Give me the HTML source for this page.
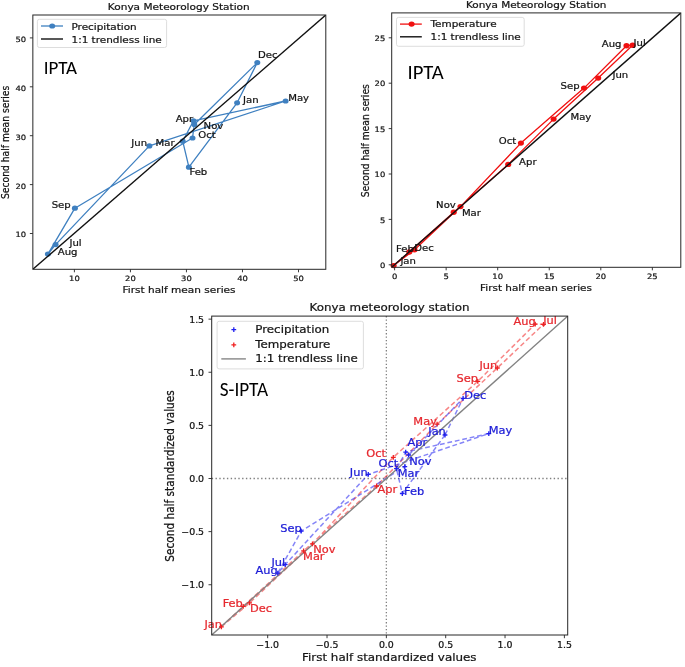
<!DOCTYPE html>
<html><head><meta charset="utf-8"><title>IPTA / S-IPTA Konya</title>
<style>html,body{margin:0;padding:0;background:#fff;} svg{display:block;filter:blur(0.4px);} text{font-family:'DejaVu Sans', 'Liberation Sans', sans-serif;}</style>
</head><body>
<svg width="685" height="667" viewBox="0 0 685 667">
<rect x="0" y="0" width="685" height="667" fill="#ffffff"/>
<clipPath id="c1"><rect x="32.85" y="15.0" width="292.95" height="254.3"/></clipPath>
<polyline points="237.10,102.80 188.90,167.20 182.70,141.20 193.50,120.80 285.60,101.00 149.40,145.90 55.60,244.60 47.90,254.10 74.90,208.20 192.50,138.00 194.30,124.50 257.30,62.60 237.10,102.80" fill="none" stroke="#3f80c0" stroke-width="1.3" stroke-linejoin="round" />
<ellipse cx="237.10" cy="102.80" rx="3.00" ry="2.62" fill="#3f80c0"/>
<ellipse cx="188.90" cy="167.20" rx="3.00" ry="2.62" fill="#3f80c0"/>
<ellipse cx="182.70" cy="141.20" rx="3.00" ry="2.62" fill="#3f80c0"/>
<ellipse cx="193.50" cy="120.80" rx="3.00" ry="2.62" fill="#3f80c0"/>
<ellipse cx="285.60" cy="101.00" rx="3.00" ry="2.62" fill="#3f80c0"/>
<ellipse cx="149.40" cy="145.90" rx="3.00" ry="2.62" fill="#3f80c0"/>
<ellipse cx="55.60" cy="244.60" rx="3.00" ry="2.62" fill="#3f80c0"/>
<ellipse cx="47.90" cy="254.10" rx="3.00" ry="2.62" fill="#3f80c0"/>
<ellipse cx="74.90" cy="208.20" rx="3.00" ry="2.62" fill="#3f80c0"/>
<ellipse cx="192.50" cy="138.00" rx="3.00" ry="2.62" fill="#3f80c0"/>
<ellipse cx="194.30" cy="124.50" rx="3.00" ry="2.62" fill="#3f80c0"/>
<ellipse cx="257.30" cy="62.60" rx="3.00" ry="2.62" fill="#3f80c0"/>
<line x1="32.85" y1="269.30" x2="325.80" y2="15.00" stroke="#111111" stroke-width="1.4" clip-path="url(#c1)"/>
<text transform="translate(257.99,57.80) scale(1,0.873)" font-size="10.10" text-anchor="start" fill="#141414" stroke="#141414" stroke-width="0.25" >Dec</text>
<text transform="translate(243.10,103.10) scale(1,0.873)" font-size="10.10" text-anchor="start" fill="#141414" stroke="#141414" stroke-width="0.25" >Jan</text>
<text transform="translate(288.19,101.30) scale(1,0.873)" font-size="10.10" text-anchor="start" fill="#141414" stroke="#141414" stroke-width="0.25" >May</text>
<text transform="translate(175.70,121.90) scale(1,0.873)" font-size="10.10" text-anchor="start" fill="#141414" stroke="#141414" stroke-width="0.25" >Apr</text>
<text transform="translate(203.59,128.90) scale(1,0.873)" font-size="10.10" text-anchor="start" fill="#141414" stroke="#141414" stroke-width="0.25" >Nov</text>
<text transform="translate(198.34,138.10) scale(1,0.873)" font-size="10.10" text-anchor="start" fill="#141414" stroke="#141414" stroke-width="0.25" >Oct</text>
<text transform="translate(155.49,146.40) scale(1,0.873)" font-size="10.10" text-anchor="start" fill="#141414" stroke="#141414" stroke-width="0.25" >Mar</text>
<text transform="translate(189.39,175.10) scale(1,0.873)" font-size="10.10" text-anchor="start" fill="#141414" stroke="#141414" stroke-width="0.25" >Feb</text>
<text transform="translate(131.31,146.40) scale(1,0.873)" font-size="10.10" text-anchor="start" fill="#141414" stroke="#141414" stroke-width="0.25" >Jun</text>
<text transform="translate(51.64,208.40) scale(1,0.873)" font-size="10.10" text-anchor="start" fill="#141414" stroke="#141414" stroke-width="0.25" >Sep</text>
<text transform="translate(69.41,246.10) scale(1,0.873)" font-size="10.10" text-anchor="start" fill="#141414" stroke="#141414" stroke-width="0.25" >Jul</text>
<text transform="translate(57.80,255.20) scale(1,0.873)" font-size="10.10" text-anchor="start" fill="#141414" stroke="#141414" stroke-width="0.25" >Aug</text>
<rect x="32.85" y="15.00" width="292.95" height="254.30" fill="none" stroke="#262626" stroke-width="1.0"/>
<line x1="74.40" y1="269.30" x2="74.40" y2="272.30" stroke="#262626" stroke-width="0.9" />
<text transform="translate(74.40,280.60) scale(1,0.873)" font-size="8.40" text-anchor="middle" fill="#141414" stroke="#141414" stroke-width="0.25" >10</text>
<line x1="29.85" y1="233.50" x2="32.85" y2="233.50" stroke="#262626" stroke-width="0.9" />
<text transform="translate(26.15,237.40) scale(1,0.873)" font-size="8.40" text-anchor="end" fill="#141414" stroke="#141414" stroke-width="0.25" >10</text>
<line x1="130.43" y1="269.30" x2="130.43" y2="272.30" stroke="#262626" stroke-width="0.9" />
<text transform="translate(130.43,280.60) scale(1,0.873)" font-size="8.40" text-anchor="middle" fill="#141414" stroke="#141414" stroke-width="0.25" >20</text>
<line x1="29.85" y1="184.60" x2="32.85" y2="184.60" stroke="#262626" stroke-width="0.9" />
<text transform="translate(26.15,188.50) scale(1,0.873)" font-size="8.40" text-anchor="end" fill="#141414" stroke="#141414" stroke-width="0.25" >20</text>
<line x1="186.45" y1="269.30" x2="186.45" y2="272.30" stroke="#262626" stroke-width="0.9" />
<text transform="translate(186.45,280.60) scale(1,0.873)" font-size="8.40" text-anchor="middle" fill="#141414" stroke="#141414" stroke-width="0.25" >30</text>
<line x1="29.85" y1="135.70" x2="32.85" y2="135.70" stroke="#262626" stroke-width="0.9" />
<text transform="translate(26.15,139.60) scale(1,0.873)" font-size="8.40" text-anchor="end" fill="#141414" stroke="#141414" stroke-width="0.25" >30</text>
<line x1="242.47" y1="269.30" x2="242.47" y2="272.30" stroke="#262626" stroke-width="0.9" />
<text transform="translate(242.47,280.60) scale(1,0.873)" font-size="8.40" text-anchor="middle" fill="#141414" stroke="#141414" stroke-width="0.25" >40</text>
<line x1="29.85" y1="86.80" x2="32.85" y2="86.80" stroke="#262626" stroke-width="0.9" />
<text transform="translate(26.15,90.70) scale(1,0.873)" font-size="8.40" text-anchor="end" fill="#141414" stroke="#141414" stroke-width="0.25" >40</text>
<line x1="298.50" y1="269.30" x2="298.50" y2="272.30" stroke="#262626" stroke-width="0.9" />
<text transform="translate(298.50,280.60) scale(1,0.873)" font-size="8.40" text-anchor="middle" fill="#141414" stroke="#141414" stroke-width="0.25" >50</text>
<line x1="29.85" y1="37.90" x2="32.85" y2="37.90" stroke="#262626" stroke-width="0.9" />
<text transform="translate(26.15,41.80) scale(1,0.873)" font-size="8.40" text-anchor="end" fill="#141414" stroke="#141414" stroke-width="0.25" >50</text>
<rect x="37.40" y="19.30" width="129.20" height="28.20" rx="2" ry="2" fill="#ffffff" fill-opacity="0.8" stroke="#d9d9d9" stroke-width="0.9"/>
<line x1="41.00" y1="26.00" x2="63.00" y2="26.00" stroke="#3f80c0" stroke-width="1.3" />
<ellipse cx="52.20" cy="26.00" rx="3.00" ry="2.62" fill="#3f80c0"/>
<line x1="41.00" y1="39.00" x2="63.00" y2="39.00" stroke="#111111" stroke-width="1.4" />
<text transform="translate(71.50,29.70) scale(1,0.873)" font-size="10.45" text-anchor="start" fill="#141414" stroke="#141414" stroke-width="0.25" >Precipitation</text>
<text transform="translate(71.50,42.50) scale(1,0.873)" font-size="10.45" text-anchor="start" fill="#141414" stroke="#141414" stroke-width="0.25" >1:1 trendless line</text>
<text transform="translate(43.80,74.20) scale(1,1.000)" font-size="18.30" text-anchor="start" fill="#000000" style="font-family:Carlito, 'Liberation Sans', sans-serif" textLength="33.3" lengthAdjust="spacingAndGlyphs">IPTA</text>
<text transform="translate(178.80,10.30) scale(1,0.873)" font-size="10.55" text-anchor="middle" fill="#141414" stroke="#141414" stroke-width="0.25" >Konya Meteorology Station</text>
<text transform="translate(179.00,293.00) scale(1,0.873)" font-size="10.55" text-anchor="middle" fill="#141414" stroke="#141414" stroke-width="0.25" >First half mean series</text>
<text transform="translate(8.70,142.40) scale(1,0.873) rotate(-90)" font-size="10.55" text-anchor="middle" fill="#141414" stroke="#141414" stroke-width="0.25" >Second half mean series</text>
<clipPath id="c2"><rect x="391.7" y="12.9" width="289.09999999999997" height="254.4"/></clipPath>
<polyline points="393.60,265.60 409.30,252.00 453.70,212.30 508.20,164.40 553.60,119.10 598.20,78.10 632.60,45.20 626.50,45.80 584.00,88.10 520.90,143.10 460.50,206.60 414.50,249.80 393.60,265.60" fill="none" stroke="#f01010" stroke-width="1.3" stroke-linejoin="round" clip-path="url(#c2)"/>
<ellipse cx="393.60" cy="265.60" rx="3.05" ry="2.69" fill="#f01010"/>
<ellipse cx="409.30" cy="252.00" rx="3.05" ry="2.69" fill="#f01010"/>
<ellipse cx="453.70" cy="212.30" rx="3.05" ry="2.69" fill="#f01010"/>
<ellipse cx="508.20" cy="164.40" rx="3.05" ry="2.69" fill="#f01010"/>
<ellipse cx="553.60" cy="119.10" rx="3.05" ry="2.69" fill="#f01010"/>
<ellipse cx="598.20" cy="78.10" rx="3.05" ry="2.69" fill="#f01010"/>
<ellipse cx="632.60" cy="45.20" rx="3.05" ry="2.69" fill="#f01010"/>
<ellipse cx="626.50" cy="45.80" rx="3.05" ry="2.69" fill="#f01010"/>
<ellipse cx="584.00" cy="88.10" rx="3.05" ry="2.69" fill="#f01010"/>
<ellipse cx="520.90" cy="143.10" rx="3.05" ry="2.69" fill="#f01010"/>
<ellipse cx="460.50" cy="206.60" rx="3.05" ry="2.69" fill="#f01010"/>
<ellipse cx="414.50" cy="249.80" rx="3.05" ry="2.69" fill="#f01010"/>
<line x1="391.70" y1="267.30" x2="680.80" y2="12.90" stroke="#111111" stroke-width="1.4" clip-path="url(#c2)"/>
<text transform="translate(601.80,46.70) scale(1,0.881)" font-size="10.10" text-anchor="start" fill="#141414" stroke="#141414" stroke-width="0.25" >Aug</text>
<text transform="translate(633.61,45.80) scale(1,0.881)" font-size="10.10" text-anchor="start" fill="#141414" stroke="#141414" stroke-width="0.25" >Jul</text>
<text transform="translate(612.50,77.90) scale(1,0.881)" font-size="10.10" text-anchor="start" fill="#141414" stroke="#141414" stroke-width="0.25" >Jun</text>
<text transform="translate(560.54,88.50) scale(1,0.881)" font-size="10.10" text-anchor="start" fill="#141414" stroke="#141414" stroke-width="0.25" >Sep</text>
<text transform="translate(570.49,120.00) scale(1,0.881)" font-size="10.10" text-anchor="start" fill="#141414" stroke="#141414" stroke-width="0.25" >May</text>
<text transform="translate(498.84,143.90) scale(1,0.881)" font-size="10.10" text-anchor="start" fill="#141414" stroke="#141414" stroke-width="0.25" >Oct</text>
<text transform="translate(519.10,164.60) scale(1,0.881)" font-size="10.10" text-anchor="start" fill="#141414" stroke="#141414" stroke-width="0.25" >Apr</text>
<text transform="translate(436.09,207.70) scale(1,0.881)" font-size="10.10" text-anchor="start" fill="#141414" stroke="#141414" stroke-width="0.25" >Nov</text>
<text transform="translate(461.89,216.40) scale(1,0.881)" font-size="10.10" text-anchor="start" fill="#141414" stroke="#141414" stroke-width="0.25" >Mar</text>
<text transform="translate(395.99,252.10) scale(1,0.881)" font-size="10.10" text-anchor="start" fill="#141414" stroke="#141414" stroke-width="0.25" >Feb</text>
<text transform="translate(414.19,251.20) scale(1,0.881)" font-size="10.10" text-anchor="start" fill="#141414" stroke="#141414" stroke-width="0.25" >Dec</text>
<text transform="translate(400.40,264.30) scale(1,0.881)" font-size="10.10" text-anchor="start" fill="#141414" stroke="#141414" stroke-width="0.25" >Jan</text>
<rect x="391.70" y="12.90" width="289.10" height="254.40" fill="none" stroke="#262626" stroke-width="1.0"/>
<line x1="394.60" y1="267.30" x2="394.60" y2="270.30" stroke="#262626" stroke-width="0.9" />
<text transform="translate(394.60,279.00) scale(1,0.881)" font-size="8.40" text-anchor="middle" fill="#141414" stroke="#141414" stroke-width="0.25" >0</text>
<line x1="388.70" y1="264.80" x2="391.70" y2="264.80" stroke="#262626" stroke-width="0.9" />
<text transform="translate(385.30,267.90) scale(1,0.881)" font-size="8.40" text-anchor="end" fill="#141414" stroke="#141414" stroke-width="0.25" >0</text>
<line x1="446.15" y1="267.30" x2="446.15" y2="270.30" stroke="#262626" stroke-width="0.9" />
<text transform="translate(446.15,279.00) scale(1,0.881)" font-size="8.40" text-anchor="middle" fill="#141414" stroke="#141414" stroke-width="0.25" >5</text>
<line x1="388.70" y1="219.40" x2="391.70" y2="219.40" stroke="#262626" stroke-width="0.9" />
<text transform="translate(385.30,222.50) scale(1,0.881)" font-size="8.40" text-anchor="end" fill="#141414" stroke="#141414" stroke-width="0.25" >5</text>
<line x1="497.70" y1="267.30" x2="497.70" y2="270.30" stroke="#262626" stroke-width="0.9" />
<text transform="translate(497.70,279.00) scale(1,0.881)" font-size="8.40" text-anchor="middle" fill="#141414" stroke="#141414" stroke-width="0.25" >10</text>
<line x1="388.70" y1="174.00" x2="391.70" y2="174.00" stroke="#262626" stroke-width="0.9" />
<text transform="translate(385.30,177.10) scale(1,0.881)" font-size="8.40" text-anchor="end" fill="#141414" stroke="#141414" stroke-width="0.25" >10</text>
<line x1="549.25" y1="267.30" x2="549.25" y2="270.30" stroke="#262626" stroke-width="0.9" />
<text transform="translate(549.25,279.00) scale(1,0.881)" font-size="8.40" text-anchor="middle" fill="#141414" stroke="#141414" stroke-width="0.25" >15</text>
<line x1="388.70" y1="128.60" x2="391.70" y2="128.60" stroke="#262626" stroke-width="0.9" />
<text transform="translate(385.30,131.70) scale(1,0.881)" font-size="8.40" text-anchor="end" fill="#141414" stroke="#141414" stroke-width="0.25" >15</text>
<line x1="600.80" y1="267.30" x2="600.80" y2="270.30" stroke="#262626" stroke-width="0.9" />
<text transform="translate(600.80,279.00) scale(1,0.881)" font-size="8.40" text-anchor="middle" fill="#141414" stroke="#141414" stroke-width="0.25" >20</text>
<line x1="388.70" y1="83.20" x2="391.70" y2="83.20" stroke="#262626" stroke-width="0.9" />
<text transform="translate(385.30,86.30) scale(1,0.881)" font-size="8.40" text-anchor="end" fill="#141414" stroke="#141414" stroke-width="0.25" >20</text>
<line x1="652.35" y1="267.30" x2="652.35" y2="270.30" stroke="#262626" stroke-width="0.9" />
<text transform="translate(652.35,279.00) scale(1,0.881)" font-size="8.40" text-anchor="middle" fill="#141414" stroke="#141414" stroke-width="0.25" >25</text>
<line x1="388.70" y1="37.80" x2="391.70" y2="37.80" stroke="#262626" stroke-width="0.9" />
<text transform="translate(385.30,40.90) scale(1,0.881)" font-size="8.40" text-anchor="end" fill="#141414" stroke="#141414" stroke-width="0.25" >25</text>
<rect x="396.50" y="17.40" width="127.70" height="28.90" rx="2" ry="2" fill="#ffffff" fill-opacity="0.8" stroke="#d9d9d9" stroke-width="0.9"/>
<line x1="400.00" y1="24.10" x2="421.80" y2="24.10" stroke="#f01010" stroke-width="1.3" />
<ellipse cx="411.60" cy="24.10" rx="3.05" ry="2.69" fill="#f01010"/>
<line x1="400.00" y1="36.80" x2="421.80" y2="36.80" stroke="#111111" stroke-width="1.4" />
<text transform="translate(430.50,27.30) scale(1,0.881)" font-size="10.45" text-anchor="start" fill="#141414" stroke="#141414" stroke-width="0.25" >Temperature</text>
<text transform="translate(430.50,40.00) scale(1,0.881)" font-size="10.45" text-anchor="start" fill="#141414" stroke="#141414" stroke-width="0.25" >1:1 trendless line</text>
<text transform="translate(407.50,79.20) scale(1,1.000)" font-size="19.80" text-anchor="start" fill="#000000" style="font-family:Carlito, 'Liberation Sans', sans-serif" textLength="36.2" lengthAdjust="spacingAndGlyphs">IPTA</text>
<text transform="translate(536.20,8.20) scale(1,0.881)" font-size="10.45" text-anchor="middle" fill="#141414" stroke="#141414" stroke-width="0.25" >Konya Meteorology Station</text>
<text transform="translate(536.00,290.70) scale(1,0.881)" font-size="10.45" text-anchor="middle" fill="#141414" stroke="#141414" stroke-width="0.25" >First half mean series</text>
<text transform="translate(368.50,140.70) scale(1,0.881) rotate(-90)" font-size="10.45" text-anchor="middle" fill="#141414" stroke="#141414" stroke-width="0.25" >Second half mean series</text>
<clipPath id="c3"><rect x="211.7" y="316.1" width="356.00000000000006" height="318.9"/></clipPath>
<line x1="386.36" y1="316.10" x2="386.36" y2="635.00" stroke="#808080" stroke-width="1.3" stroke-dasharray="1.3,2.1" />
<line x1="211.70" y1="478.50" x2="567.70" y2="478.50" stroke="#808080" stroke-width="1.3" stroke-dasharray="1.4,2.4" />
<polyline points="221.40,626.80 243.20,606.40 303.60,550.90 376.60,486.00 437.10,424.20 497.30,368.00 543.50,324.30 535.20,324.10 477.80,381.30 393.30,457.30 312.50,543.90 249.60,602.90 221.40,626.80" fill="none" stroke="#f02020" stroke-width="1.5" stroke-dasharray="4.8,2.8" stroke-linejoin="round" stroke-opacity="0.55"/>
<polyline points="445.00,435.00 402.30,493.50 396.50,468.70 405.70,452.10 488.80,433.60 368.30,474.40 285.20,564.60 277.80,573.10 301.20,531.20 404.80,466.70 408.60,455.00 463.10,398.30 445.00,435.00" fill="none" stroke="#2020f0" stroke-width="1.5" stroke-dasharray="4.8,2.8" stroke-linejoin="round" stroke-opacity="0.55"/>
<line x1="211.70" y1="635.00" x2="567.70" y2="316.10" stroke="#828282" stroke-width="1.35" clip-path="url(#c3)"/>
<path d="M219.00,626.80H223.80M221.40,624.40V629.20" stroke="#f02020" stroke-width="1.3" stroke-opacity="1.0" fill="none"/>
<path d="M240.80,606.40H245.60M243.20,604.00V608.80" stroke="#f02020" stroke-width="1.3" stroke-opacity="1.0" fill="none"/>
<path d="M301.20,550.90H306.00M303.60,548.50V553.30" stroke="#f02020" stroke-width="1.3" stroke-opacity="1.0" fill="none"/>
<path d="M374.20,486.00H379.00M376.60,483.60V488.40" stroke="#f02020" stroke-width="1.3" stroke-opacity="1.0" fill="none"/>
<path d="M434.70,424.20H439.50M437.10,421.80V426.60" stroke="#f02020" stroke-width="1.3" stroke-opacity="1.0" fill="none"/>
<path d="M494.90,368.00H499.70M497.30,365.60V370.40" stroke="#f02020" stroke-width="1.3" stroke-opacity="1.0" fill="none"/>
<path d="M541.10,324.30H545.90M543.50,321.90V326.70" stroke="#f02020" stroke-width="1.3" stroke-opacity="1.0" fill="none"/>
<path d="M532.80,324.10H537.60M535.20,321.70V326.50" stroke="#f02020" stroke-width="1.3" stroke-opacity="1.0" fill="none"/>
<path d="M475.40,381.30H480.20M477.80,378.90V383.70" stroke="#f02020" stroke-width="1.3" stroke-opacity="1.0" fill="none"/>
<path d="M390.90,457.30H395.70M393.30,454.90V459.70" stroke="#f02020" stroke-width="1.3" stroke-opacity="1.0" fill="none"/>
<path d="M310.10,543.90H314.90M312.50,541.50V546.30" stroke="#f02020" stroke-width="1.3" stroke-opacity="1.0" fill="none"/>
<path d="M247.20,602.90H252.00M249.60,600.50V605.30" stroke="#f02020" stroke-width="1.3" stroke-opacity="1.0" fill="none"/>
<path d="M442.60,435.00H447.40M445.00,432.60V437.40" stroke="#2020f0" stroke-width="1.3" stroke-opacity="1.0" fill="none"/>
<path d="M399.90,493.50H404.70M402.30,491.10V495.90" stroke="#2020f0" stroke-width="1.3" stroke-opacity="1.0" fill="none"/>
<path d="M394.10,468.70H398.90M396.50,466.30V471.10" stroke="#2020f0" stroke-width="1.3" stroke-opacity="1.0" fill="none"/>
<path d="M403.30,452.10H408.10M405.70,449.70V454.50" stroke="#2020f0" stroke-width="1.3" stroke-opacity="1.0" fill="none"/>
<path d="M486.40,433.60H491.20M488.80,431.20V436.00" stroke="#2020f0" stroke-width="1.3" stroke-opacity="1.0" fill="none"/>
<path d="M365.90,474.40H370.70M368.30,472.00V476.80" stroke="#2020f0" stroke-width="1.3" stroke-opacity="1.0" fill="none"/>
<path d="M282.80,564.60H287.60M285.20,562.20V567.00" stroke="#2020f0" stroke-width="1.3" stroke-opacity="1.0" fill="none"/>
<path d="M275.40,573.10H280.20M277.80,570.70V575.50" stroke="#2020f0" stroke-width="1.3" stroke-opacity="1.0" fill="none"/>
<path d="M298.80,531.20H303.60M301.20,528.80V533.60" stroke="#2020f0" stroke-width="1.3" stroke-opacity="1.0" fill="none"/>
<path d="M402.40,466.70H407.20M404.80,464.30V469.10" stroke="#2020f0" stroke-width="1.3" stroke-opacity="1.0" fill="none"/>
<path d="M406.20,455.00H411.00M408.60,452.60V457.40" stroke="#2020f0" stroke-width="1.3" stroke-opacity="1.0" fill="none"/>
<path d="M460.70,398.30H465.50M463.10,395.90V400.70" stroke="#2020f0" stroke-width="1.3" stroke-opacity="1.0" fill="none"/>
<text transform="translate(513.59,324.80) scale(1,0.895)" font-size="11.40" text-anchor="start" fill="#e6282e" stroke="#e6282e" stroke-width="0.25" >Aug</text>
<text transform="translate(543.17,324.30) scale(1,0.895)" font-size="11.40" text-anchor="start" fill="#e6282e" stroke="#e6282e" stroke-width="0.25" >Jul</text>
<text transform="translate(479.47,368.60) scale(1,0.895)" font-size="11.40" text-anchor="start" fill="#e6282e" stroke="#e6282e" stroke-width="0.25" >Jun</text>
<text transform="translate(456.46,381.80) scale(1,0.895)" font-size="11.40" text-anchor="start" fill="#e6282e" stroke="#e6282e" stroke-width="0.25" >Sep</text>
<text transform="translate(413.36,425.10) scale(1,0.895)" font-size="11.40" text-anchor="start" fill="#e6282e" stroke="#e6282e" stroke-width="0.25" >May</text>
<text transform="translate(366.37,457.10) scale(1,0.895)" font-size="11.40" text-anchor="start" fill="#e6282e" stroke="#e6282e" stroke-width="0.25" >Oct</text>
<text transform="translate(377.49,493.40) scale(1,0.895)" font-size="11.40" text-anchor="start" fill="#e6282e" stroke="#e6282e" stroke-width="0.25" >Apr</text>
<text transform="translate(313.36,553.00) scale(1,0.895)" font-size="11.40" text-anchor="start" fill="#e6282e" stroke="#e6282e" stroke-width="0.25" >Nov</text>
<text transform="translate(303.06,559.60) scale(1,0.895)" font-size="11.40" text-anchor="start" fill="#e6282e" stroke="#e6282e" stroke-width="0.25" >Mar</text>
<text transform="translate(222.66,606.90) scale(1,0.895)" font-size="11.40" text-anchor="start" fill="#e6282e" stroke="#e6282e" stroke-width="0.25" >Feb</text>
<text transform="translate(250.06,611.50) scale(1,0.895)" font-size="11.40" text-anchor="start" fill="#e6282e" stroke="#e6282e" stroke-width="0.25" >Dec</text>
<text transform="translate(204.47,627.90) scale(1,0.895)" font-size="11.40" text-anchor="start" fill="#e6282e" stroke="#e6282e" stroke-width="0.25" >Jan</text>
<text transform="translate(464.16,399.00) scale(1,0.895)" font-size="11.40" text-anchor="start" fill="#1c1cd6" stroke="#1c1cd6" stroke-width="0.25" >Dec</text>
<text transform="translate(488.66,434.10) scale(1,0.895)" font-size="11.40" text-anchor="start" fill="#1c1cd6" stroke="#1c1cd6" stroke-width="0.25" >May</text>
<text transform="translate(428.27,435.30) scale(1,0.895)" font-size="11.40" text-anchor="start" fill="#1c1cd6" stroke="#1c1cd6" stroke-width="0.25" >Jan</text>
<text transform="translate(407.49,446.20) scale(1,0.895)" font-size="11.40" text-anchor="start" fill="#1c1cd6" stroke="#1c1cd6" stroke-width="0.25" >Apr</text>
<text transform="translate(378.57,467.20) scale(1,0.895)" font-size="11.40" text-anchor="start" fill="#1c1cd6" stroke="#1c1cd6" stroke-width="0.25" >Oct</text>
<text transform="translate(409.36,464.80) scale(1,0.895)" font-size="11.40" text-anchor="start" fill="#1c1cd6" stroke="#1c1cd6" stroke-width="0.25" >Nov</text>
<text transform="translate(397.66,477.00) scale(1,0.895)" font-size="11.40" text-anchor="start" fill="#1c1cd6" stroke="#1c1cd6" stroke-width="0.25" >Mar</text>
<text transform="translate(349.87,476.00) scale(1,0.895)" font-size="11.40" text-anchor="start" fill="#1c1cd6" stroke="#1c1cd6" stroke-width="0.25" >Jun</text>
<text transform="translate(404.06,495.00) scale(1,0.895)" font-size="11.40" text-anchor="start" fill="#1c1cd6" stroke="#1c1cd6" stroke-width="0.25" >Feb</text>
<text transform="translate(280.26,532.20) scale(1,0.895)" font-size="11.40" text-anchor="start" fill="#1c1cd6" stroke="#1c1cd6" stroke-width="0.25" >Sep</text>
<text transform="translate(271.47,565.50) scale(1,0.895)" font-size="11.40" text-anchor="start" fill="#1c1cd6" stroke="#1c1cd6" stroke-width="0.25" >Jul</text>
<text transform="translate(255.59,574.00) scale(1,0.895)" font-size="11.40" text-anchor="start" fill="#1c1cd6" stroke="#1c1cd6" stroke-width="0.25" >Aug</text>
<rect x="211.70" y="316.10" width="356.00" height="318.90" fill="none" stroke="#262626" stroke-width="1.0"/>
<line x1="267.68" y1="635.00" x2="267.68" y2="638.20" stroke="#262626" stroke-width="0.9" />
<text transform="translate(267.68,648.10) scale(1,0.895)" font-size="9.40" text-anchor="middle" fill="#141414" stroke="#141414" stroke-width="0.25" >−1.0</text>
<line x1="208.50" y1="584.74" x2="211.70" y2="584.74" stroke="#262626" stroke-width="0.9" />
<text transform="translate(204.10,588.14) scale(1,0.895)" font-size="9.40" text-anchor="end" fill="#141414" stroke="#141414" stroke-width="0.25" >−1.0</text>
<line x1="327.02" y1="635.00" x2="327.02" y2="638.20" stroke="#262626" stroke-width="0.9" />
<text transform="translate(327.02,648.10) scale(1,0.895)" font-size="9.40" text-anchor="middle" fill="#141414" stroke="#141414" stroke-width="0.25" >−0.5</text>
<line x1="208.50" y1="531.62" x2="211.70" y2="531.62" stroke="#262626" stroke-width="0.9" />
<text transform="translate(204.10,535.02) scale(1,0.895)" font-size="9.40" text-anchor="end" fill="#141414" stroke="#141414" stroke-width="0.25" >−0.5</text>
<line x1="386.36" y1="635.00" x2="386.36" y2="638.20" stroke="#262626" stroke-width="0.9" />
<text transform="translate(386.36,648.10) scale(1,0.895)" font-size="9.40" text-anchor="middle" fill="#141414" stroke="#141414" stroke-width="0.25" >0.0</text>
<line x1="208.50" y1="478.50" x2="211.70" y2="478.50" stroke="#262626" stroke-width="0.9" />
<text transform="translate(204.10,481.90) scale(1,0.895)" font-size="9.40" text-anchor="end" fill="#141414" stroke="#141414" stroke-width="0.25" >0.0</text>
<line x1="445.70" y1="635.00" x2="445.70" y2="638.20" stroke="#262626" stroke-width="0.9" />
<text transform="translate(445.70,648.10) scale(1,0.895)" font-size="9.40" text-anchor="middle" fill="#141414" stroke="#141414" stroke-width="0.25" >0.5</text>
<line x1="208.50" y1="425.38" x2="211.70" y2="425.38" stroke="#262626" stroke-width="0.9" />
<text transform="translate(204.10,428.78) scale(1,0.895)" font-size="9.40" text-anchor="end" fill="#141414" stroke="#141414" stroke-width="0.25" >0.5</text>
<line x1="505.04" y1="635.00" x2="505.04" y2="638.20" stroke="#262626" stroke-width="0.9" />
<text transform="translate(505.04,648.10) scale(1,0.895)" font-size="9.40" text-anchor="middle" fill="#141414" stroke="#141414" stroke-width="0.25" >1.0</text>
<line x1="208.50" y1="372.26" x2="211.70" y2="372.26" stroke="#262626" stroke-width="0.9" />
<text transform="translate(204.10,375.66) scale(1,0.895)" font-size="9.40" text-anchor="end" fill="#141414" stroke="#141414" stroke-width="0.25" >1.0</text>
<line x1="564.38" y1="635.00" x2="564.38" y2="638.20" stroke="#262626" stroke-width="0.9" />
<text transform="translate(564.38,648.10) scale(1,0.895)" font-size="9.40" text-anchor="middle" fill="#141414" stroke="#141414" stroke-width="0.25" >1.5</text>
<line x1="208.50" y1="319.14" x2="211.70" y2="319.14" stroke="#262626" stroke-width="0.9" />
<text transform="translate(204.10,322.54) scale(1,0.895)" font-size="9.40" text-anchor="end" fill="#141414" stroke="#141414" stroke-width="0.25" >1.5</text>
<rect x="217.10" y="321.30" width="146.30" height="47.60" rx="2" ry="2" fill="#ffffff" fill-opacity="0.8" stroke="#d9d9d9" stroke-width="0.9"/>
<path d="M231.40,329.70H236.20M233.80,327.30V332.10" stroke="#2020f0" stroke-width="1.3" stroke-opacity="1.0" fill="none"/>
<path d="M231.40,344.90H236.20M233.80,342.50V347.30" stroke="#f02020" stroke-width="1.3" stroke-opacity="1.0" fill="none"/>
<line x1="221.30" y1="358.90" x2="245.90" y2="358.90" stroke="#828282" stroke-width="1.35" />
<text transform="translate(255.30,333.00) scale(1,0.895)" font-size="11.85" text-anchor="start" fill="#141414" stroke="#141414" stroke-width="0.25" >Precipitation</text>
<text transform="translate(255.30,348.20) scale(1,0.895)" font-size="11.85" text-anchor="start" fill="#141414" stroke="#141414" stroke-width="0.25" >Temperature</text>
<text transform="translate(255.30,362.20) scale(1,0.895)" font-size="11.85" text-anchor="start" fill="#141414" stroke="#141414" stroke-width="0.25" >1:1 trendless line</text>
<text transform="translate(219.80,396.40) scale(1,1.000)" font-size="19.80" text-anchor="start" fill="#000000" style="font-family:Carlito, 'Liberation Sans', sans-serif" textLength="48.3" lengthAdjust="spacingAndGlyphs">S-IPTA</text>
<text transform="translate(389.50,311.00) scale(1,0.895)" font-size="11.90" text-anchor="middle" fill="#141414" stroke="#141414" stroke-width="0.25" >Konya meteorology station</text>
<text transform="translate(389.30,660.80) scale(1,0.895)" font-size="11.90" text-anchor="middle" fill="#141414" stroke="#141414" stroke-width="0.25" >First half standardized values</text>
<text transform="translate(173.60,476.00) scale(1,0.895) rotate(-90)" font-size="11.80" text-anchor="middle" fill="#141414" stroke="#141414" stroke-width="0.25" >Second half standardized values</text>
</svg>
</body></html>
